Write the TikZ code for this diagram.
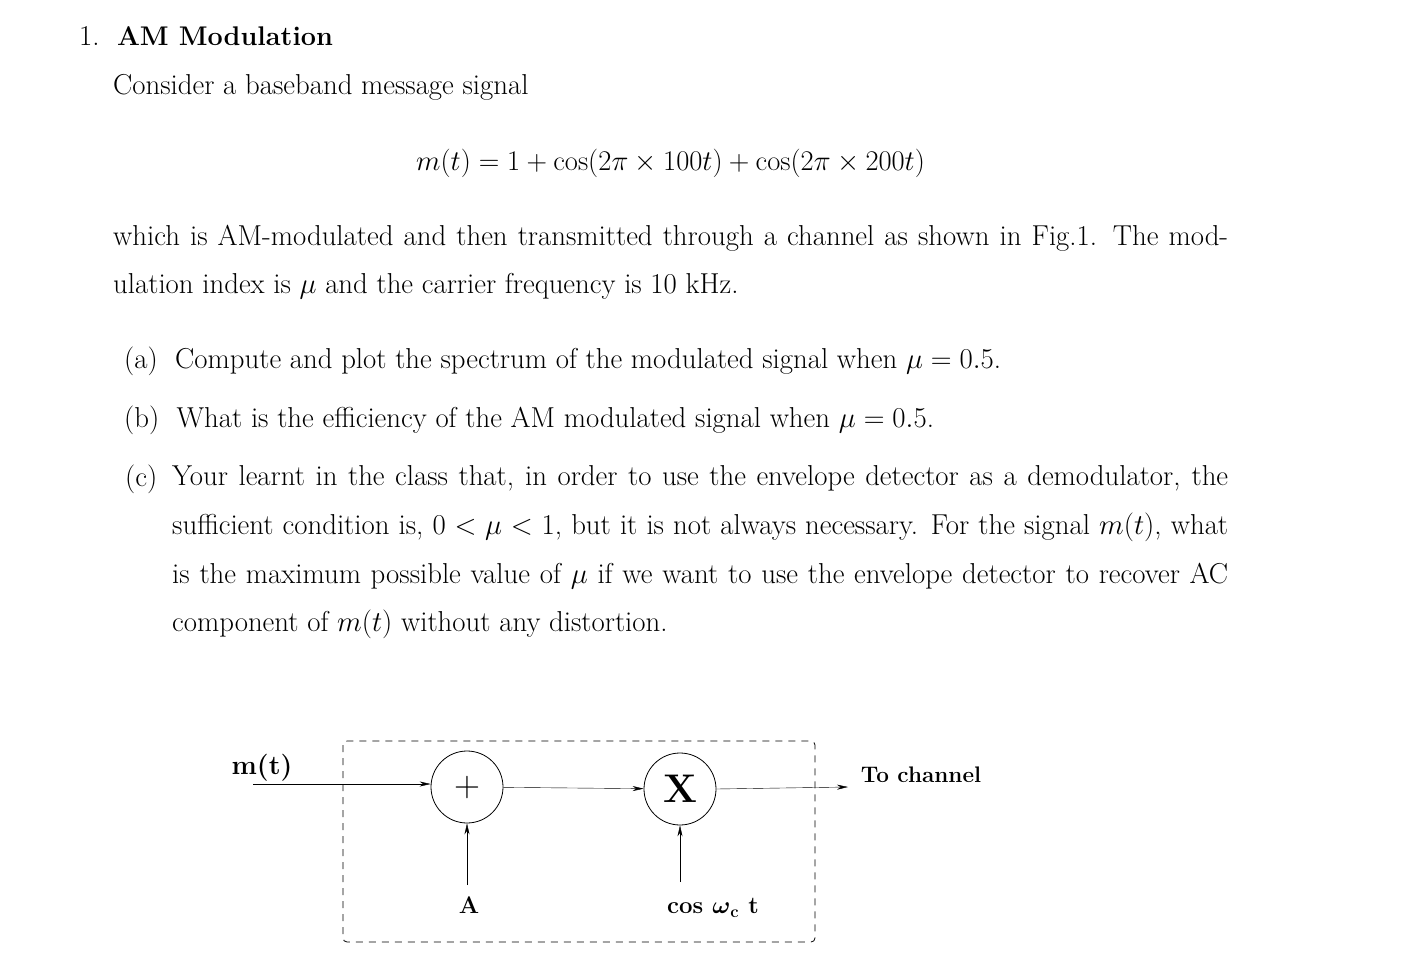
\documentclass[tikz,border=0pt]{standalone}
\usepackage{fix-cm}
\usepackage{amsmath}
\usetikzlibrary{arrows.meta}
\newcommand{\jl}[2]{\parbox{#1pt}{\parfillskip=0pt\relax #2}}
\begin{document}
\begin{tikzpicture}[x=1pt,y=-1pt,
  txt/.style={anchor=base west,inner sep=0pt,font=\fontsize{28.8}{34}\selectfont},
  lbl/.style={inner sep=0pt,font=\fontsize{24}{28}\selectfont\bfseries},
  op/.style={circle,draw,thick,minimum size=72pt,inner sep=0pt},
  sig/.style={-{Stealth[length=11pt,width=5pt]},thin}]
\useasboundingbox (0,0) rectangle (1421,974);
\node[txt] (t0) at (79,46) {1.\ \ \fontsize{27}{30}\selectfont\textbf{AM Modulation}};
\node[txt] (t1) at (113,94) {Consider a baseband message signal};
\node[txt,font=\fontsize{28.5}{34}\selectfont] (t2) at (416,170) {$m(t) = 1 + \cos(2\pi\times 100t) + \cos(2\pi\times 200t)$};
\node[txt] (t3) at (113,245) {\jl{1115}{which is AM-modulated and then transmitted through a channel as shown in Fig.1. The mod-}};
\node[txt] (t4) at (113,293) {ulation index is $\mu$ and the carrier frequency is 10 kHz.};
\node[txt] (t5) at (124,368) {(a)\ \ Compute and plot the spectrum of the modulated signal when $\mu = 0.5$.};
\node[txt] (t6) at (124,427) {(b)\ \ What is the efficiency of the AM modulated signal when $\mu = 0.5$.};
\node[txt] (t7) at (125,486) {(c)};
\node[txt] (t8) at (172,486) {\jl{1056}{Your learnt in the class that, in order to use the envelope detector as a demodulator, the}};
\node[txt] (t9) at (172,534) {\jl{1056}{sufficient condition is, $0<\mu<1$, but it is not always necessary. For the signal $m(t)$, what}};
\node[txt] (t10) at (172,583) {\jl{1056}{is the maximum possible value of $\mu$ if we want to use the envelope detector to recover AC}};
\node[txt] (t11) at (172,631) {component of $m(t)$ without any distortion.};
% diagram
\draw[thick,dash pattern=on 7pt off 6pt,rounded corners=4pt] (343,741) rectangle (815,942);
\node[op,font=\fontsize{36}{40}\selectfont] (add) at (467,787) {$+$};
\node[op,font=\fontsize{40}{40}\selectfont\bfseries] (mul) at (680,789) {X};
\coordinate (in) at (253,784);
\coordinate (out) at (848,787);
\coordinate (a0) at (467,885);
\coordinate (c0) at (680,882);
\draw[sig] (in) -- (add.west|-in);
\draw[sig] (add) -- (mul);
\draw[sig] (mul.east) -- (out);
\draw[sig] (a0) -- (add.south);
\draw[sig] (c0) -- (mul.south);
\node[lbl,font=\fontsize{27}{28}\selectfont\bfseries] (mt) at (262,768) {m(t)};
\node[lbl,font=\fontsize{22.5}{24}\selectfont\bfseries] (ch) at (921,775) {To channel};
\node[lbl] (A) at (469,905) {A};
\node[lbl] (cw) at (713,908) {cos $\boldsymbol{\omega}_{\mathbf c}$ t};
\end{tikzpicture}
\end{document}
